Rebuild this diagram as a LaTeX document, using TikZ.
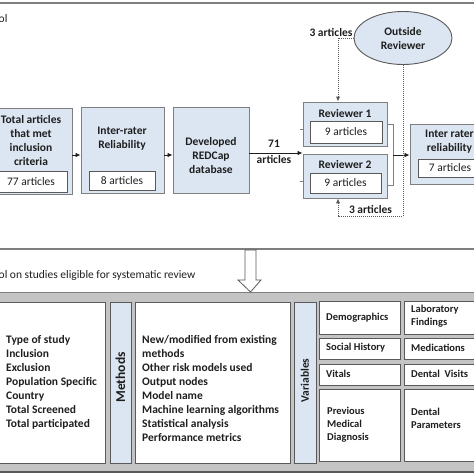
\documentclass[tikz,border=0pt]{standalone}
\usepackage{fontspec}
\setmainfont{Carlito}
\usetikzlibrary{arrows.meta,shapes.geometric}
\definecolor{lblue}{HTML}{DCE6F2}
\definecolor{bord}{HTML}{7F7F7F}
\definecolor{dbord}{HTML}{595959}
\definecolor{band}{HTML}{C4C4C4}
\definecolor{txtc}{HTML}{1E1E1E}
\tikzset{
  bluebox/.style={draw=bord, fill=lblue, line width=0.9pt, inner sep=0pt},
  whitebox/.style={draw=dbord, fill=white, line width=0.8pt, inner sep=0pt},
  panel/.style={draw=dbord, fill=white, line width=1pt, inner sep=0pt},
  strip/.style={draw=dbord, fill=lblue, line width=1pt, inner sep=0pt},
  btxt/.style={font=\bfseries\fontsize{11.5}{14}\selectfont, text=txtc, align=center, inner sep=0pt},
  rtxt/.style={font=\fontsize{11.5}{14}\selectfont, text=txtc, align=center, inner sep=0pt},
  ctxt/.style={font=\bfseries\fontsize{10.5}{13}\selectfont, text=txtc, align=left, inner sep=0pt, anchor=west},
  ltxt/.style={font=\bfseries\fontsize{11.5}{13.9}\selectfont, text=txtc, align=left, inner sep=0pt, anchor=west},
  arr/.style={-{Latex[length=5pt,width=4.5pt]}, line width=0.8pt, draw=txtc},
  dotarr/.style={densely dotted, line width=1pt, draw=dbord, -{Latex[length=5pt,width=4.5pt]}},
}
\begin{document}
\begin{tikzpicture}[x=1pt,y=-1pt]
\useasboundingbox (0,0) rectangle (474,474);
\clip (0,0) rectangle (474,474);
% frame lines
\draw[bord, line width=1.2pt] (-5,3) -- (480,3);
\node[rtxt, anchor=west] (t1) at (-1.5,19) {ol};
% Box 1
\node[bluebox, minimum width=76pt, minimum height=86pt] (b1) at (34,151) {};
\node[btxt] (b1t) at (31,140) {Total articles\\that met\\inclusion\\criteria};
\node[whitebox, minimum width=72pt, minimum height=21pt] (b1i) at (31,181.5) {};
\node[rtxt] (b1it) at (b1i) {77 articles};
% Box 2
\node[bluebox, minimum width=83pt, minimum height=86pt] (b2) at (122.5,150) {};
\node[btxt] (b2t) at (122,138.5) {Inter-rater\\Reliability};
\node[whitebox, minimum width=66pt, minimum height=19pt] (b2i) at (122,180.5) {};
\node[rtxt] (b2it) at (b2i) {8 articles};
% Box 3
\node[bluebox, minimum width=76pt, minimum height=86pt] (b3) at (211,150) {};
\node[btxt] (b3t) at (211,156) {Developed\\REDCap\\database};
% Reviewers
\node[bluebox, minimum width=84pt, minimum height=44pt] (r1) at (345,124) {};
\node[btxt] (r1t) at (345,114) {Reviewer 1};
\node[whitebox, minimum width=72pt, minimum height=22pt] (r1i) at (346,132) {};
\node[rtxt] (r1it) at (r1i) {9 articles};
\node[bluebox, minimum width=84pt, minimum height=44pt] (r2) at (345,176) {};
\node[btxt] (r2t) at (345,165) {Reviewer 2};
\node[whitebox, minimum width=71pt, minimum height=20pt] (r2i) at (345.5,183) {};
\node[rtxt] (r2it) at (r2i) {9 articles};
% Inter rater reliability
\node[bluebox, minimum width=84pt, minimum height=60pt] (ir) at (452,154) {};
\node[btxt] (irt) at (449.5,141.5) {Inter rater\\reliability};
\node[whitebox, minimum width=68pt, minimum height=18pt] (iri) at (452,168) {};
\node[rtxt] (irit) at (450,168) {7 articles};
% Outside reviewer
\node[draw=dbord, fill=lblue, line width=0.9pt, ellipse, minimum width=98pt, minimum height=53pt, inner sep=0pt] (out) at (403,38) {};
\node[btxt] (outt) at (403,38.5) {Outside\\Reviewer};
% arrows
\draw[arr] (b1.east |- 0,155) -- (b2.west |- 0,155);
\draw[arr] (b2.east |- 0,155) -- (b3.west |- 0,155);
\draw[arr] (b3.east |- 0,153) -- (r1.west |- 0,153);
\node[btxt] (lab71) at (274,152) {71\\[2.5pt]articles};
% left bracket ticks
\draw[bord, line width=0.8pt] (300,129) -- (303,129);
\draw[bord, line width=0.8pt] (300,181) -- (303,181);
% right bracket
\draw[bord, line width=0.8pt] (r1.east |- 0,124) -- (393,124) -- (393,185) -- (r2.east |- 0,185);
\coordinate (brk) at (393,155);
\draw[arr] (brk) -- (ir.west |- brk);
% dotted
\draw[dotarr] (out.west) -- (338,38) -- (338 ,0 |- r1.north);
\node[btxt] (l3a) at (331,32) {3 articles};
\draw[dotarr] (out.south) -- (out.south |- 0,216) -- (338,216) -- (338,0 |- r2.south);
\node[btxt] (l3b) at (370.5,209) {3 articles};
% section 2
\draw[bord, line width=1.2pt] (-5,249) -- (480,249);
\node[rtxt, anchor=west] (t2) at (-1.5,275) {ol on studies eligible for systematic review};
\draw[dbord, fill=white, line width=0.8pt] (245,250) -- (256,250) -- (256,280) -- (261,280) -- (250.5,292) -- (238,280) -- (245,280) -- cycle;
% band
\node[draw=bord, fill=band, line width=1pt, minimum width=490pt, minimum height=180pt, inner sep=0pt] (bandn) at (237,382) {};
\draw[dbord, line width=2pt] (-5,472) -- (480,472);
% panels
\node[panel, minimum width=110pt, minimum height=161pt] (p1) at (50,382.5) {};
\node[strip, minimum width=21pt, minimum height=161pt] (m) at (120.5,382.5) {};
\node[btxt, rotate=90, font=\bfseries\fontsize{13.5}{15}\selectfont] (mt) at (120.5,377.5) {Methods};
\node[panel, minimum width=155pt, minimum height=161pt] (p2) at (212.5,382.5) {};
\node[strip, minimum width=22pt, minimum height=161pt] (v) at (305,382.5) {};
\node[btxt, rotate=90] (vt) at (305,380.5) {Variables};
\node[ltxt] (p1t) at (6,382.5) {Type of study\\Inclusion\\Exclusion\\Population Specific\\Country\\Total Screened\\Total participated};
\node[ltxt] (p2t) at (142,388.5) {New/modified from existing\\methods\\Other risk models used\\Output nodes\\Model name\\Machine learning algorithms\\Statistical analysis\\Performance metrics};
% grid
\node[panel, minimum width=81pt, minimum height=33pt] (c11) at (359.5,317.5) {};
\node[panel, minimum width=80pt, minimum height=33pt] (c21) at (444,317.5) {};
\node[panel, minimum width=81pt, minimum height=21pt] (c12) at (359.5,348.5) {};
\node[panel, minimum width=80pt, minimum height=21pt] (c22) at (444,348.5) {};
\node[panel, minimum width=81pt, minimum height=21pt] (c13) at (359.5,374.5) {};
\node[panel, minimum width=80pt, minimum height=21pt] (c23) at (444,374.5) {};
\node[panel, minimum width=81pt, minimum height=72pt] (c14) at (359.5,425) {};
\node[panel, minimum width=80pt, minimum height=72pt] (c24) at (444,425) {};
\node[ctxt] (c11t) at (326,318) {Demographics};
\node[ctxt] (c21t) at (411,316.5) {Laboratory\\Findings};
\node[ctxt] (c12t) at (326,348) {Social History};
\node[ctxt] (c22t) at (411,348) {Medications};
\node[ctxt] (c13t) at (326,374) {Vitals};
\node[ctxt] (c23t) at (411,374) {Dental\ \ Visits};
\node[ctxt] (c14t) at (327,425) {Previous\\Medical\\Diagnosis};
\node[ctxt] (c24t) at (411,418) {Dental\\Parameters};
\end{tikzpicture}
\end{document}
